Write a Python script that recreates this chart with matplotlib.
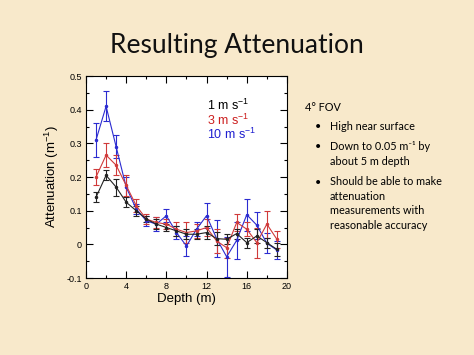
import matplotlib
matplotlib.use("Agg")
import matplotlib.pyplot as plt

plt.rcParams['font.family'] = ['Liberation Sans', 'DejaVu Sans']
plt.rcParams['mathtext.fontset'] = 'custom'
plt.rcParams['mathtext.rm'] = 'Liberation Sans'
plt.rcParams['mathtext.it'] = 'Liberation Sans:italic'

depth = list(range(1, 20))

# 1 m/s wind
att_1 = [0.14, 0.205, 0.17, 0.125, 0.10, 0.075, 0.06, 0.05, 0.04, 0.03,
         0.03, 0.035, 0.017, 0.015, 0.032, 0.005, 0.025, 0.005, -0.015]
err_1 = [0.015, 0.015, 0.025, 0.015, 0.015, 0.01, 0.015, 0.01, 0.015, 0.015,
         0.015, 0.02, 0.02, 0.015, 0.015, 0.015, 0.02, 0.015, 0.02]
# 3 m/s wind
att_3 = [0.2, 0.265, 0.235, 0.175, 0.115, 0.075, 0.065, 0.06, 0.045, 0.035,
         0.04, 0.05, 0.01, -0.01, 0.065, 0.045, 0.005, 0.06, 0.015]
err_3 = [0.025, 0.035, 0.03, 0.03, 0.02, 0.015, 0.015, 0.015, 0.02, 0.03,
         0.02, 0.025, 0.035, 0.03, 0.025, 0.02, 0.045, 0.04, 0.025]
# 10 m/s wind
att_10 = [0.31, 0.41, 0.29, 0.17, 0.105, 0.07, 0.06, 0.085, 0.035, -0.005,
          0.045, 0.085, 0.017, -0.037, 0.012, 0.088, 0.057, 0.003, -0.017]
err_10 = [0.05, 0.045, 0.035, 0.03, 0.015, 0.015, 0.02, 0.02, 0.02, 0.03,
          0.02, 0.037, 0.055, 0.06, 0.055, 0.047, 0.04, 0.03, 0.027]

bullets = ["High near surface",
           "Down to 0.05 m\u207b\u00b9 by\nabout 5 m depth",
           "Should be able to make\nattenuation\nmeasurements with\nreasonable accuracy"]

bg = '#f8e9cb'
fig = plt.figure(figsize=(4.74, 3.55), dpi=100, facecolor=bg)

fig.text(0.5, 0.873, "Resulting Attenuation", ha='center', va='center',
         fontsize=19, family=['Lato', 'DejaVu Sans'], color='#111111')

ax = fig.add_axes([0.1814, 0.2169, 0.424, 0.569])
ax.set_facecolor('white')

for y, e, c in [(att_10, err_10, '#2b2bd0'), (att_3, err_3, '#d03a3a'), (att_1, err_1, '#222222')]:
    ax.errorbar(depth, y, yerr=e, color=c, lw=0.8, elinewidth=0.8,
                capsize=2.5, capthick=0.8, marker='o', ms=1.5)

ax.set_xlim(0, 20)
ax.set_ylim(-0.1, 0.5)
ax.set_xticks([0, 4, 8, 12, 16, 20])
ax.set_xticks(range(0, 21, 2), minor=True)
ax.set_yticks([-0.1, 0, 0.1, 0.2, 0.3, 0.4, 0.5])
ax.set_yticklabels(['-0.1', '0', '0.1', '0.2', '0.3', '0.4', '0.5'])
ax.set_yticks([i * 0.05 - 0.1 for i in range(13)], minor=True)
ax.tick_params(which='both', direction='in', top=True, right=True, labelsize=6.5, pad=3)
ax.tick_params(which='major', length=5, width=0.8)
ax.tick_params(which='minor', length=2.5, width=0.8)
for s in ax.spines.values():
    s.set_linewidth(0.8)

ax.set_xlabel("Depth (m)", fontsize=9.5, labelpad=1)
ax.set_ylabel("Attenuation (m$^{-1}$)", fontsize=9.5, labelpad=4)

ax.text(0.6, 0.83, "1 m s$^{-1}$", transform=ax.transAxes, fontsize=9, color='black')
ax.text(0.6, 0.758, "3 m s$^{-1}$", transform=ax.transAxes, fontsize=9, color='#cc1f1f')
ax.text(0.6, 0.686, "10 m s$^{-1}$", transform=ax.transAxes, fontsize=9, color='#1f1fd0')

# bullet text on the right
fam = ['Lato', 'DejaVu Sans']
fig.text(305 / 474, 1 - 107 / 355, "4° FOV", fontsize=7.8, family=fam, va='center')
ys = [127, 147, 182]
for yy, t in zip(ys, bullets):
    fig.text(315 / 474, 1 - yy / 355, "•", fontsize=7.8, family=fam, va='center')
    fig.text(330 / 474, 1 - (yy - 6) / 355, t, fontsize=7.8, family=fam,
             va='top', linespacing=1.4)

fig.savefig("out.png", dpi=100, facecolor=bg)
